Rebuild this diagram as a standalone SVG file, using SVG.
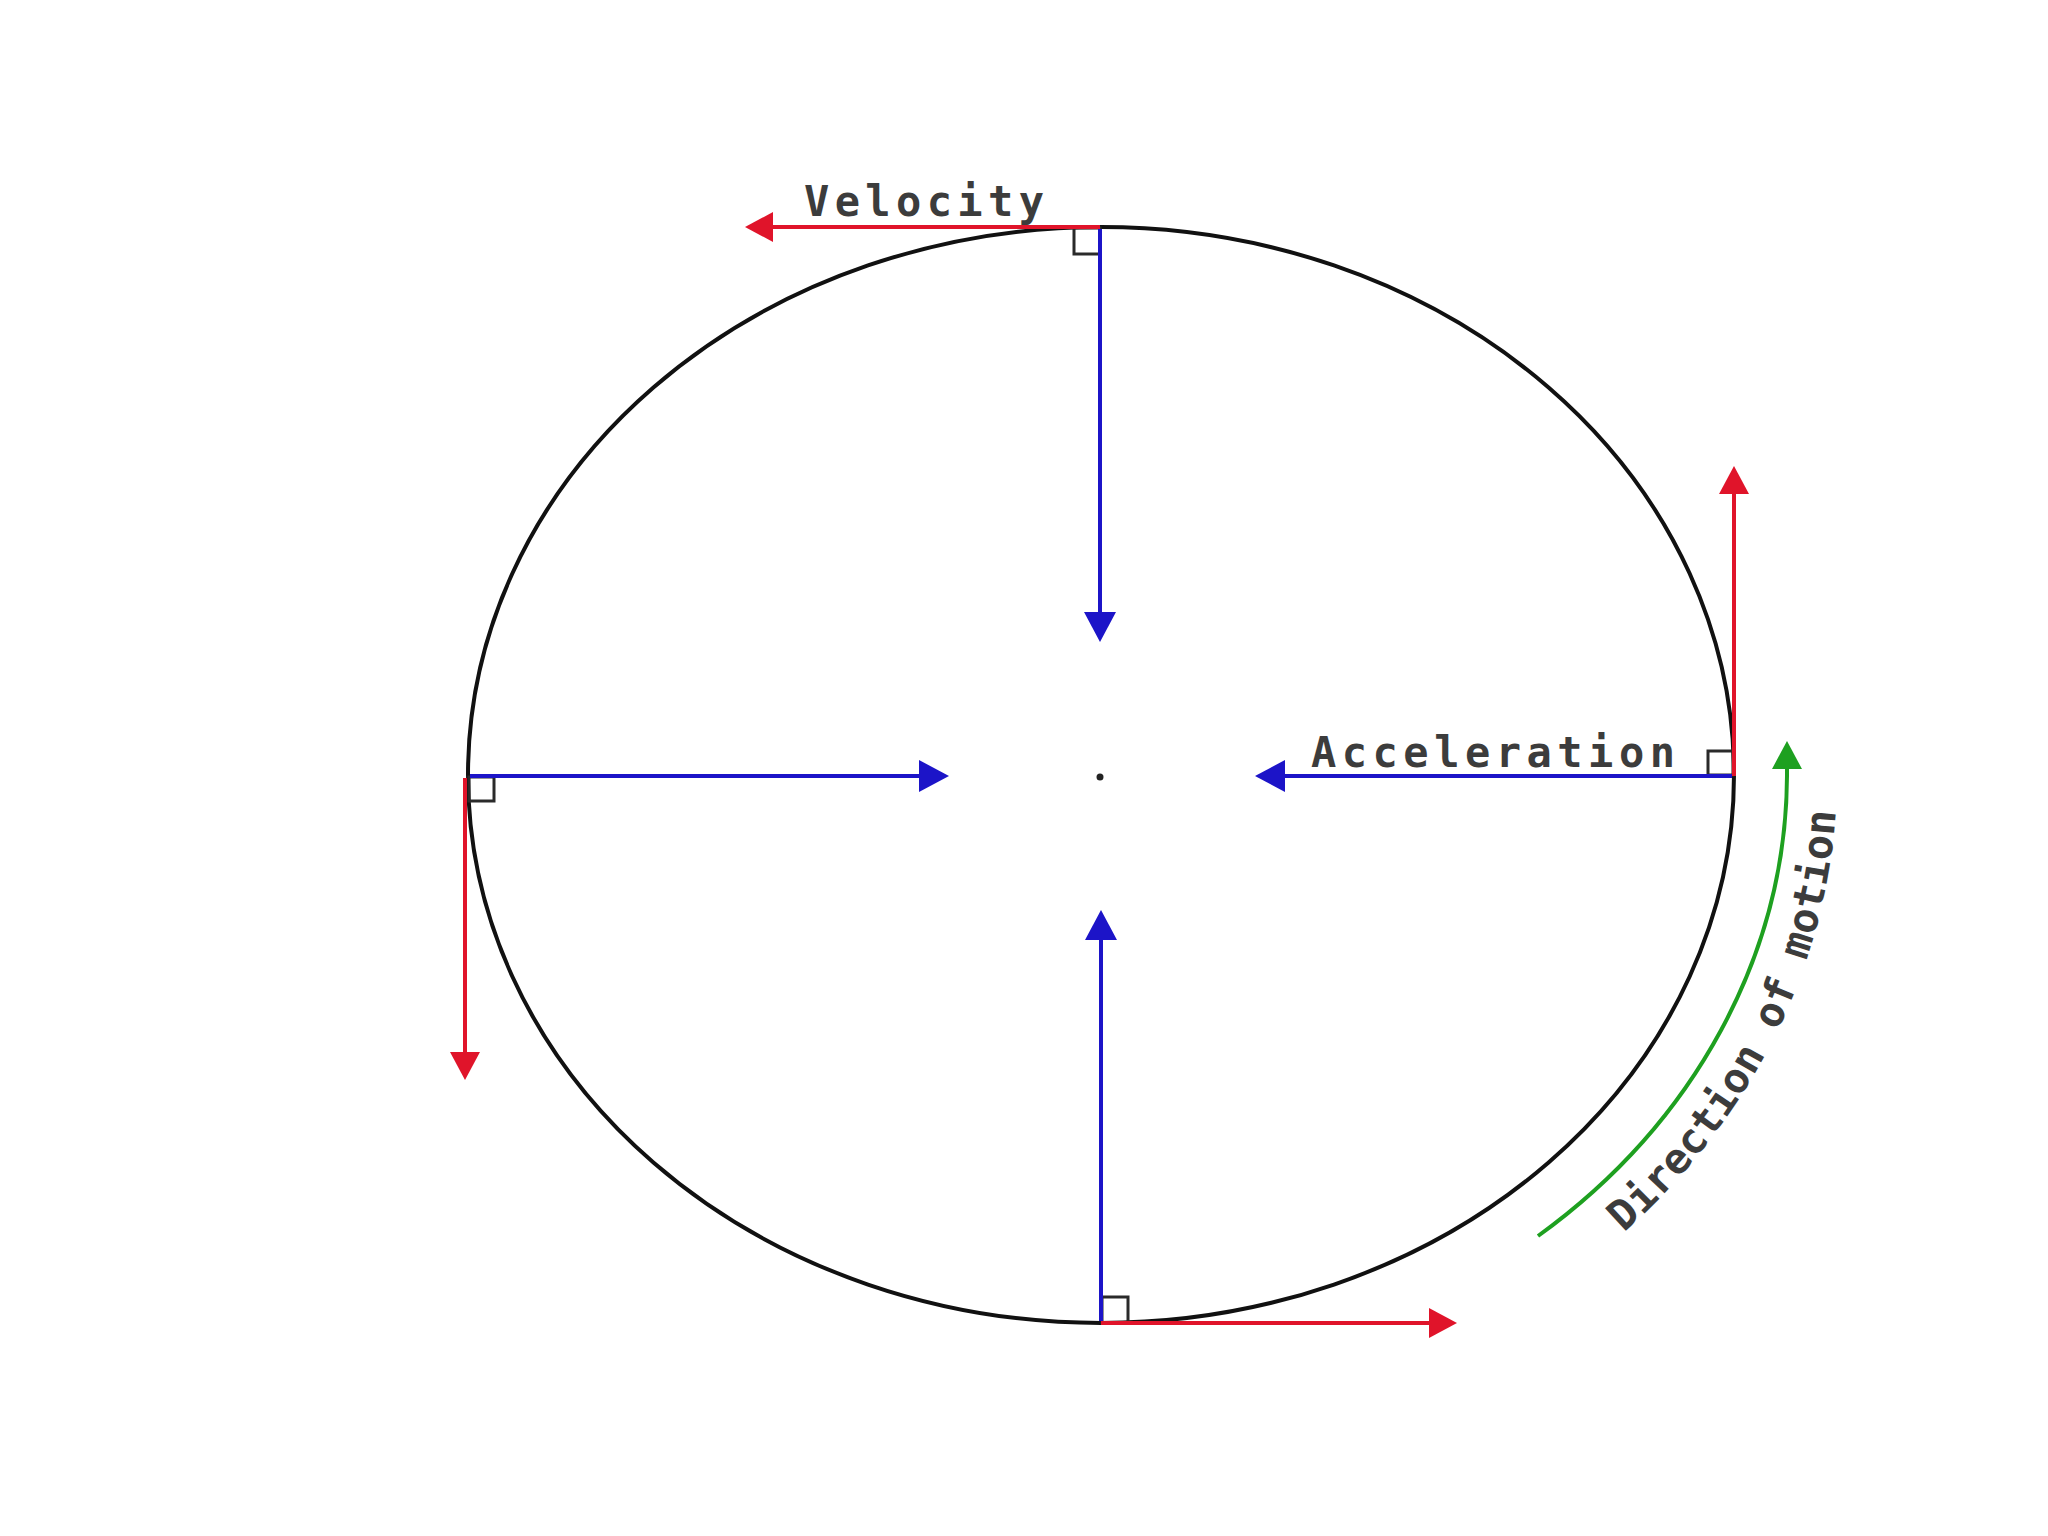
<svg xmlns="http://www.w3.org/2000/svg" width="2048" height="1536" viewBox="0 0 2048 1536">
<defs>
<style>
.txt{font-family:"DejaVu Sans Mono","Liberation Mono",monospace;font-size:42px;fill:#3c3c3c;font-weight:bold}
.acc{stroke:#1c14c8;stroke-width:4;fill:none}
.vel{stroke:#e0142a;stroke-width:4;fill:none}
.ra{stroke:#2a2a2a;stroke-width:3;fill:none}
</style>
<marker id="ab" markerUnits="userSpaceOnUse" markerWidth="30" markerHeight="32" refX="24" refY="16" orient="auto" viewBox="0 0 30 32">
<path d="M0,0 L30,16 L0,32 z" fill="#1c14c8"/>
</marker>
<marker id="rb" markerUnits="userSpaceOnUse" markerWidth="28" markerHeight="30" refX="22" refY="15" orient="auto" viewBox="0 0 28 30">
<path d="M0,0 L28,15 L0,30 z" fill="#e0142a"/>
</marker>
<marker id="gb" markerUnits="userSpaceOnUse" markerWidth="28" markerHeight="30" refX="22" refY="15" orient="auto" viewBox="0 0 28 30">
<path d="M0,0 L28,15 L0,30 z" fill="#1ea020"/>
</marker>
<path id="tp" d="M1574,1273 A736,650 0 0 0 1834,718"/>
</defs>
<rect width="2048" height="1536" fill="#ffffff"/>
<g id="orbit">
<ellipse cx="1101" cy="775" rx="633" ry="548" fill="none" stroke="#111" stroke-width="4"/>
<circle cx="1100" cy="777" r="3.5" fill="#222"/>
</g>
<g id="right-angles">
<rect class="ra" x="1074" y="228" width="26" height="26"/>
<rect class="ra" x="469" y="777" width="25" height="24"/>
<rect class="ra" x="1708" y="751" width="25" height="24"/>
<rect class="ra" x="1102" y="1297" width="26" height="26"/>
</g>
<g id="connectors">
<line class="acc" x1="1100" y1="229" x2="1100" y2="636" marker-end="url(#ab)"/>
<line class="acc" x1="1101" y1="1321" x2="1101" y2="916" marker-end="url(#ab)"/>
<line class="acc" x1="470" y1="776" x2="943" y2="776" marker-end="url(#ab)"/>
<line class="acc" x1="1732" y1="776" x2="1261" y2="776" marker-end="url(#ab)"/>
<line class="vel" x1="1100" y1="227" x2="751" y2="227" marker-end="url(#rb)"/>
<line class="vel" x1="465" y1="778" x2="465" y2="1074" marker-end="url(#rb)"/>
<line class="vel" x1="1734" y1="776" x2="1734" y2="472" marker-end="url(#rb)"/>
<line class="vel" x1="1101" y1="1323" x2="1451" y2="1323" marker-end="url(#rb)"/>
<path d="M1538,1236 A686,600 0 0 0 1787,776 L1787,747" fill="none" stroke="#1ea020" stroke-width="4" marker-end="url(#gb)"/>
</g>
<g id="labels">
<text class="txt" x="804" y="216" textLength="240" lengthAdjust="spacing">Velocity</text>
<text class="txt" x="1311" y="767" textLength="364" lengthAdjust="spacing">Acceleration</text>
<text class="txt"><textPath href="#tp" startOffset="64" textLength="484" lengthAdjust="spacing">Direction of motion</textPath></text>
</g>
</svg>
